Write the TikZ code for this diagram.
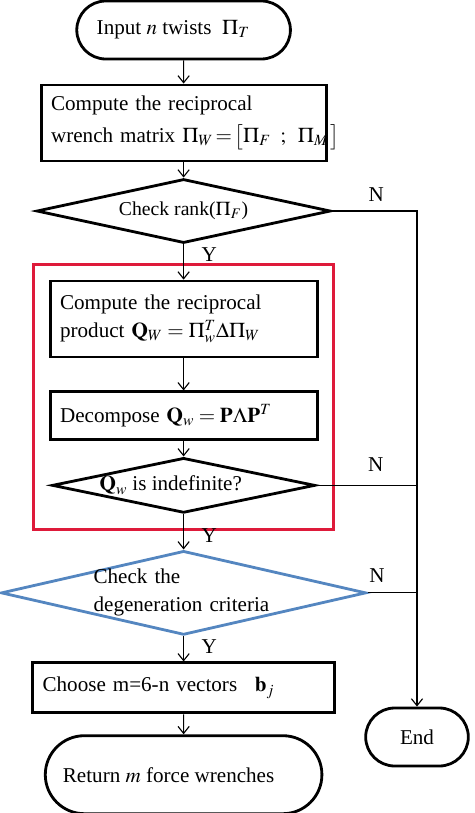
\documentclass[tikz,border=0pt]{standalone}
\usepackage{mathptmx}
\usepackage{fontspec}
\setmainfont{Liberation Serif}
\usepackage{tikz}
\usetikzlibrary{arrows.meta,shapes,positioning,fit}
\definecolor{loopred}{RGB}{222,26,58}
\definecolor{critblue}{RGB}{84,134,192}
\tikzset{
  every picture/.style = {
    line width = 0.8pt,
    >={Straight Barb[length=5pt,width=8pt]},
    node distance = 0.6cm and 1cm,
  }
  ,
  process/.style = {
    rectangle,
    draw,
    line width = 2pt,
    inner xsep = 0.25cm,
    align = left,
    font = \fontsize{15}{20}\selectfont
  }
  ,
  decision/.style = {
    diamond,
    draw,
    line width = 2pt,
    inner sep = 0pt
  }
  ,
  terminal/.style = {
    rounded rectangle,
    draw,
    line width = 2pt,
    font = \fontsize{15}{20}\selectfont
  }
  , % text inside the diamonds
  label-text/.style = {
    align = left,
    font = \fontsize{15}{20}\selectfont
  }
  , % Y / N on the connectors
  label-edge/.style = {
    font = \fontsize{15}{20}\selectfont,
    inner sep = 1pt
  }
}
\begin{document}
\begin{tikzpicture}[->]
  \useasboundingbox (0,0) rectangle (11.85,-20.325);

  \node [terminal, minimum width=5.575cm, minimum height=1.45cm] (start) at (4.59,-0.75)
    {Input $n$ twists\ \ $\Pi_{T}$\hspace{0.52cm}\mbox{}};
  \node [process, below = 0.58cm of start, text width=6.625cm, minimum height=1.9cm] (wrench)
    {Compute the reciprocal\\[3pt]
     \mbox{wrench matrix $\Pi_{W}\!=\!\bigl[\Pi_{F}\;\;;\;\;\Pi_{M}\,\bigr]$}};
  \node [decision, below = 0.38cm of wrench, minimum width=7.35cm, minimum height=1.6cm,
    label={[label-text, font=\fontsize{14}{18}\selectfont]center:Check rank($\Pi_{F}$)}] (rank) {};

  \node [process, below = 0.88cm of rank, text width=6.175cm, minimum height=1.9cm] (product)
    {Compute the reciprocal\\product $\mathbf{Q}_{W}=\Pi^{T}_{w}\Delta\Pi_{W}$};
  \node [process, below = 0.8cm of product, text width=6.175cm, minimum height=1.2cm] (decomp)
    {Decompose $\mathbf{Q}_{w}=\mathbf{P}\Lambda\mathbf{P}^{T}$};
  \node [decision, below = 0.38cm of decomp, minimum width=6.575cm, minimum height=1.375cm,
    label={[label-text, xshift=-0.32cm]center:$\mathbf{Q}_{w}$ is indefinite?}] (indef) {};
  \node [draw=loopred, line width=2pt, inner sep=0.375cm, fit=(product)(indef)] (loop) {};

  \node [decision, draw=critblue, below = 0.88cm of indef, minimum width=9.125cm, minimum height=2.1cm,
    label={[label-text, text width=4.5cm]center:Check the\\degeneration criteria}] (degen) {};
  \node [process, below = 0.63cm of degen, text width=7.05cm, minimum height=1.25cm] (choose)
    {Choose m=6-n vectors\ \ \,$\mathbf{b}_{j}$};
  \node [terminal, below = 0.5cm of choose, minimum width=7.15cm, minimum height=1.95cm] (return)
    {Return $m$ force wrenches\hspace{0.75cm}\mbox{}};
  \node [terminal, minimum width=2.8cm, minimum height=1.45cm] (stop) at (10.425,-18.425) {End};

  \path (start) edge (wrench)
        (wrench) edge (rank)
        (rank) edge node [label-edge, right=0.4cm, pos=0.3] {Y} (product)
        (product) edge (decomp)
        (decomp) edge (indef)
        (indef) edge node [label-edge, right=0.4cm, pos=0.6] {Y} (degen)
        (degen) edge node [label-edge, right=0.4cm, pos=0.42] {Y} (choose)
        (choose) edge (return);

  \draw (rank.east) -| node [label-edge, above=0.2cm, pos=0.26] {N} (stop.north);
  \draw [-] (indef.east) -- node [label-edge, above=0.3cm, pos=0.59] {N} (indef.east -| stop);
  \draw [-] (degen.east) -- node [label-edge, above=0.2cm, pos=0.19] {N} (degen.east -| stop);
\end{tikzpicture}
\end{document}
